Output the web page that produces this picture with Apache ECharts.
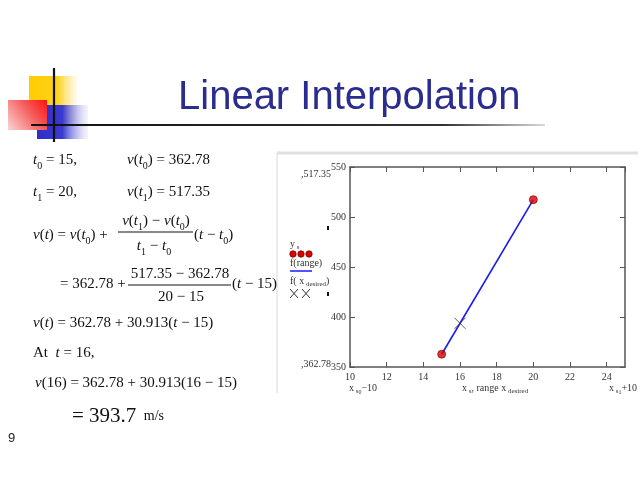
<!DOCTYPE html>
<html><head><meta charset="utf-8">
<script src="https://cdn.jsdelivr.net/npm/echarts@6/dist/echarts.min.js"></script>
<style>html,body{margin:0;padding:0;background:#fff}#c{width:638px;height:478px}</style>
</head><body><div id="c"></div>
<script>
// ---- data ----
const tKnown = [15, 20];
const vKnown = [362.78, 517.35];
const tDesired = [16];
const vDesired = [393.7];
const xMin = 10, xMax = 25, xInterval = 2;
const yMin = 350, yMax = 550, yInterval = 50;
const vLabelHigh = '517.35';
const vLabelLow = '362.78';

const SERIF = 'Liberation Serif';
const SANS = 'Liberation Sans';

const knownPts = tKnown.map((t, i) => [t, vKnown[i]]);
const desiredPts = tDesired.map((t, i) => [t, vDesired[i]]);

const R = {
  i: {fontStyle: 'italic', fontSize: 15, fontFamily: SERIF, lineHeight: 22},
  s: {fontSize: 10, fontFamily: SERIF, lineHeight: 12, verticalAlign: 'bottom'},
  big: {fontSize: 21, fontFamily: SERIF, lineHeight: 26},
  u: {fontSize: 14, fontFamily: SERIF, lineHeight: 26}
};
function F(x, y, text, align) {
  return {
    type: 'text', x: x, y: y, z: 10,
    style: {text: text, fontSize: 15, fontFamily: SERIF, lineHeight: 22, fill: '#111',
      align: align || 'left', verticalAlign: 'middle', rich: R}
  };
}
function L(x1, y1, x2, y2, c, w) {
  return {type: 'line', z: 10, shape: {x1: x1, y1: y1, x2: x2, y2: y2}, style: {stroke: c || '#111', lineWidth: w || 1}};
}
const SR = {
  b: {fontSize: 10, fontFamily: SERIF, lineHeight: 14},
  s: {fontSize: 7, fontFamily: SERIF, lineHeight: 9, verticalAlign: 'bottom'},
  ss: {fontSize: 6, fontFamily: SERIF, lineHeight: 6, verticalAlign: 'bottom'}
};
function S(x, y, text, align) {
  return {
    type: 'text', x: x, y: y, z: 10,
    style: {text: text, fontSize: 10, fontFamily: SERIF, lineHeight: 14, fill: '#333',
      align: align || 'left', verticalAlign: 'middle', rich: SR}
  };
}

const graphics = [
  // chart frame (top band + left edge)
  {type: 'line', z: 0, shape: {x1: 277, y1: 153, x2: 638, y2: 153}, style: {stroke: '#e0e0e0', lineWidth: 3}},
  {type: 'line', z: 0, shape: {x1: 277, y1: 153, x2: 277, y2: 393}, style: {stroke: '#e4e4e4', lineWidth: 1.5}},
  // logo
  {type: 'rect', shape: {x: 29, y: 76, width: 48, height: 46},
    style: {fill: new echarts.graphic.LinearGradient(0, 0, 1, 0, [{offset: 0, color: '#FFCC00'}, {offset: 0.6, color: '#FFD21A'}, {offset: 1, color: 'rgba(255,230,150,0.2)'}])}},
  {type: 'rect', shape: {x: 37, y: 105, width: 51, height: 34},
    style: {fill: new echarts.graphic.LinearGradient(0, 0, 1, 0, [{offset: 0, color: '#2F2FC8'}, {offset: 0.5, color: '#3A3AD0'}, {offset: 1, color: 'rgba(220,220,250,0.3)'}])}},
  {type: 'rect', shape: {x: 8, y: 100, width: 39, height: 30},
    style: {fill: new echarts.graphic.LinearGradient(0, 1, 1, 0, [{offset: 0, color: '#FBD4D4'}, {offset: 0.6, color: '#F55A5A'}, {offset: 1, color: '#FF1010'}])}},
  L(54, 68, 54, 142, '#111', 2.2),
  {type: 'line', shape: {x1: 31, y1: 125, x2: 545, y2: 125},
    style: {lineWidth: 2.2, stroke: new echarts.graphic.LinearGradient(0, 0, 1, 0, [{offset: 0, color: '#111'}, {offset: 0.8, color: '#333'}, {offset: 1, color: '#ddd'}])}},
  // title
  {type: 'text', x: 178, y: 98, style: {text: 'Linear Interpolation', fontSize: 40, fontFamily: SANS, fill: '#2B2D8E', align: 'left', verticalAlign: 'middle'}},
  // page number
  {type: 'text', x: 8, y: 438, style: {text: '9', fontSize: 13, fontFamily: SANS, fill: '#222', align: 'left', verticalAlign: 'middle'}},
  // formulas
  F(33, 160, '{i|t}{s|0} = 15,'),
  F(127, 160, '{i|v}({i|t}{s|0}) = 362.78'),
  F(33, 192, '{i|t}{s|1} = 20,'),
  F(127, 192, '{i|v}({i|t}{s|1}) = 517.35'),
  F(33, 235, '{i|v}({i|t}) = {i|v}({i|t}{s|0}) + '),
  F(156, 221, '{i|v}({i|t}{s|1}) − {i|v}({i|t}{s|0})', 'center'),
  L(118, 232, 193, 232),
  F(154, 246, '{i|t}{s|1} − {i|t}{s|0}', 'center'),
  F(194, 235, '({i|t} − {i|t}{s|0})'),
  F(60, 284, '= 362.78 + '),
  F(180, 274, '517.35 − 362.78', 'center'),
  L(128, 285, 231, 285),
  F(181, 297, '20 − 15', 'center'),
  F(232, 284, '({i|t} − 15)'),
  F(33, 323, '{i|v}({i|t}) = 362.78 + 30.913({i|t} − 15)'),
  F(33, 353, 'At  {i|t} = 16,'),
  F(35, 383, '{i|v}(16) = 362.78 + 30.913(16 − 15)'),
  F(72, 416, '{big|= 393.7}  {u|m/s}'),
  // chart side labels
  S(301, 174, ',' + vLabelHigh),
  S(301, 364, ',' + vLabelLow),
  {type: 'rect', z: 10, shape: {x: 327, y: 226, width: 2, height: 4}, style: {fill: '#111'}},
  {type: 'rect', z: 10, shape: {x: 327, y: 292, width: 2, height: 4}, style: {fill: '#111'}},
  S(290, 244, '{b|y}{s| s}'),
  {type: 'circle', z: 10, shape: {cx: 293, cy: 254, r: 3.2}, style: {fill: '#dd0000', stroke: '#700', lineWidth: 0.8}},
  {type: 'circle', z: 10, shape: {cx: 301, cy: 254, r: 3.2}, style: {fill: '#dd0000', stroke: '#700', lineWidth: 0.8}},
  {type: 'circle', z: 10, shape: {cx: 309, cy: 254, r: 3.2}, style: {fill: '#dd0000', stroke: '#700', lineWidth: 0.8}},
  S(290, 263, 'f(range)'),
  L(290, 271, 312, 271, '#1a1aff', 1.5),
  S(290, 281, 'f( x{s| desired})'),
  L(290, 289, 298, 298, '#333', 1), L(298, 289, 290, 298, '#333', 1),
  L(302, 289, 310, 298, '#333', 1), L(310, 289, 302, 298, '#333', 1),
  S(349, 388, 'x{s| s}{ss|0}−10'),
  S(462, 388, 'x{s| s}, range x{s| desired}'),
  S(609, 388, 'x{s| s}{ss|1}+10')
];

const axisCommon = {
  axisLine: {show: true, onZero: false, lineStyle: {color: '#555', width: 1.5}},
  axisTick: {show: true, inside: true, length: 5, lineStyle: {color: '#555', width: 1}},
  splitLine: {show: false}
};

const chart = echarts.init(document.getElementById('c'), null, {renderer: 'canvas'});
chart.setOption({
  animation: false,
  backgroundColor: '#fff',
  grid: {left: 350, right: 13, top: 167, bottom: 111, containLabel: false},
  xAxis: [
    Object.assign({type: 'value', position: 'bottom', min: xMin, max: xMax, interval: xInterval,
      axisLabel: {show: true, fontFamily: SERIF, fontSize: 10, color: '#333', margin: 5, showMaxLabel: false}}, axisCommon),
    Object.assign({type: 'value', position: 'top', min: xMin, max: xMax, interval: xInterval,
      axisLabel: {show: false}}, axisCommon)
  ],
  yAxis: [
    Object.assign({type: 'value', position: 'left', min: yMin, max: yMax, interval: yInterval,
      axisLabel: {show: true, fontFamily: SERIF, fontSize: 10, color: '#333', margin: 4}}, axisCommon),
    Object.assign({type: 'value', position: 'right', min: yMin, max: yMax, interval: yInterval,
      axisLabel: {show: false}}, axisCommon)
  ],
  series: [
    {type: 'line', data: knownPts, showSymbol: false, symbol: 'none', lineStyle: {color: '#1a1aee', width: 1.6}, z: 2},
    {type: 'scatter', data: knownPts, symbol: 'circle', symbolSize: 8,
      itemStyle: {color: '#dd0000', borderColor: '#700', borderWidth: 0.8}, z: 3},
    {type: 'scatter', data: desiredPts, symbol: 'path://M0,0L10,10M10,0L0,10', symbolSize: 11,
      itemStyle: {color: 'none', borderColor: '#333', borderWidth: 1}, z: 4}
  ],
  graphic: graphics
});
</script></body></html>
